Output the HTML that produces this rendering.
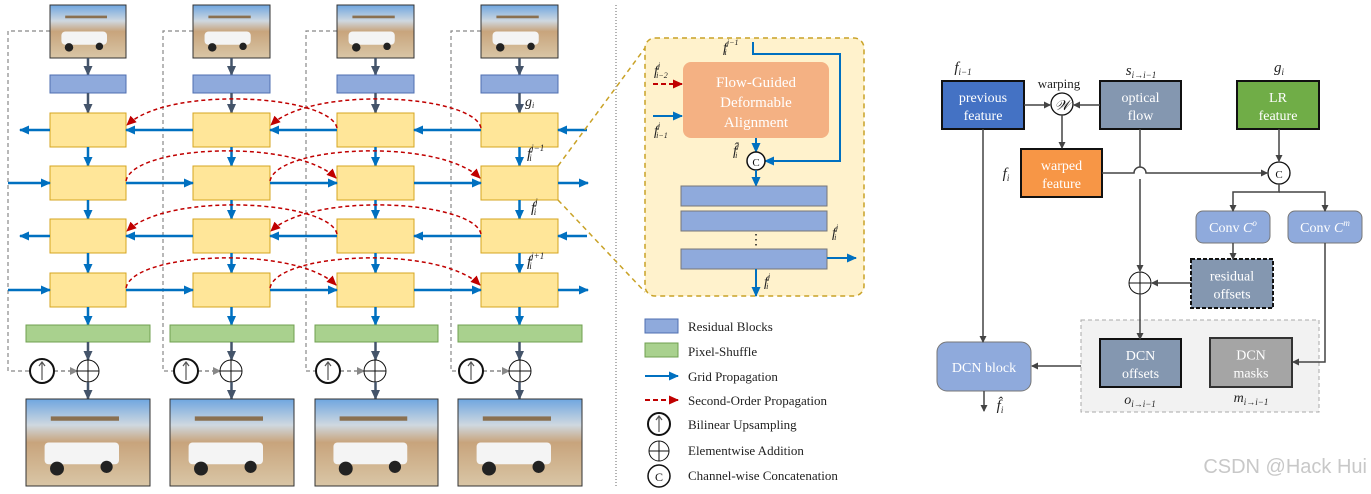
<!DOCTYPE html>
<html><head><meta charset="utf-8"><style>
html,body{margin:0;padding:0;background:#fff;}
svg{display:block;}
text{font-family:"Liberation Serif",serif;}
.m{font-style:italic;font-family:"Liberation Serif",serif;}
</style></head><body>
<svg id="s" width="1371" height="494" viewBox="0 0 1371 494" xmlns="http://www.w3.org/2000/svg">
<defs>
<marker id="ab" markerWidth="10" markerHeight="10" refX="9" refY="5" orient="auto" markerUnits="userSpaceOnUse"><path d="M0,0.5 L10,5 L0,9.5 z" fill="#0070c0"/></marker>
<marker id="ad" markerWidth="10" markerHeight="10" refX="9" refY="5" orient="auto" markerUnits="userSpaceOnUse"><path d="M0,0.5 L10,5 L0,9.5 z" fill="#44546a"/></marker>
<marker id="ar" markerWidth="10" markerHeight="10" refX="9" refY="5" orient="auto" markerUnits="userSpaceOnUse"><path d="M0,0.5 L10,5 L0,9.5 z" fill="#c00000"/></marker>
<marker id="ag" markerWidth="8" markerHeight="8" refX="7" refY="4" orient="auto" markerUnits="userSpaceOnUse"><path d="M0,0 L8,4 L0,8 z" fill="#888"/></marker>
<marker id="ak" markerWidth="7" markerHeight="7" refX="6" refY="3.5" orient="auto" markerUnits="userSpaceOnUse"><path d="M0,0 L7,3.5 L0,7 z" fill="#444"/></marker>
<linearGradient id="ph" x1="0" y1="0" x2="0" y2="1"><stop offset="0" stop-color="#6fa6e0"/><stop offset="0.3" stop-color="#cfd8e0"/><stop offset="0.5" stop-color="#c8a47c"/><stop offset="1" stop-color="#d9c6a6"/></linearGradient>
</defs>
<g id="g"></g>
</svg>
<script>
var o='';
function R(x,y,w,h,f,s,sw,extra){o+='<rect x="'+x+'" y="'+y+'" width="'+w+'" height="'+h+'" fill="'+f+'" stroke="'+(s||'none')+'" stroke-width="'+(sw||1)+'" '+(extra||'')+'/>';}
function L(x1,y1,x2,y2,c,w,m,d){o+='<line x1="'+x1+'" y1="'+y1+'" x2="'+x2+'" y2="'+y2+'" stroke="'+c+'" stroke-width="'+w+'" '+(m?'marker-end="url(#'+m+')" ':'')+(d?'stroke-dasharray="'+d+'"':'')+'/>';}
function P(d,c,w,m,da,f){o+='<path d="'+d+'" fill="'+(f||'none')+'" stroke="'+c+'" stroke-width="'+w+'" '+(m?'marker-end="url(#'+m+')" ':'')+(da?'stroke-dasharray="'+da+'"':'')+'/>';}
function T(x,y,t,sz,c,a,ex){o+='<text x="'+x+'" y="'+y+'" font-size="'+sz+'" fill="'+(c||'#222')+'" text-anchor="'+(a||'start')+'" '+(ex||'')+'>'+t+'</text>';}
function F(x,y,base,sup,sub,sz,bk){var s=Math.round(sz*0.6);T(x,y,base+'<tspan font-size="'+s+'" dy="-7">'+sup+'</tspan><tspan font-size="'+s+'" dy="10" dx="-'+bk+'">'+sub+'</tspan>',sz,'#222','start','class="m"');}
function photo(x,y,w,h){R(x,y,w,h,'url(#ph)','#333',1);
 o+='<rect x="'+(x+w*0.15)+'" y="'+(y+h*0.5)+'" width="'+(w*0.6)+'" height="'+(h*0.25)+'" rx="4" fill="#f4f4f4"/>';
 o+='<rect x="'+(x+w*0.2)+'" y="'+(y+h*0.2)+'" width="'+(w*0.55)+'" height="'+(h*0.05)+'" fill="#8a7050"/>';
 o+='<circle cx="'+(x+w*0.25)+'" cy="'+(y+h*0.8)+'" r="'+(h*0.08)+'" fill="#222"/><circle cx="'+(x+w*0.65)+'" cy="'+(y+h*0.78)+'" r="'+(h*0.07)+'" fill="#222"/>';}
function circ(cx,cy,r,sw){o+='<circle cx="'+cx+'" cy="'+cy+'" r="'+r+'" fill="#fff" stroke="#111" stroke-width="'+(sw||1.3)+'"/>';}
function plus(cx,cy,r){circ(cx,cy,r,1);L(cx-r,cy,cx+r,cy,'#111',1);L(cx,cy-r,cx,cy+r,'#111',1);}
function up(cx,cy,r){circ(cx,cy,r,2);L(cx,cy+r-3,cx,cy-r+4,'#555',1.2);P('M'+(cx-3)+','+(cy-r+7)+' L'+cx+','+(cy-r+3)+' L'+(cx+3)+','+(cy-r+7),'#555',1.2);}

var cols=[{x:50,w:76},{x:193,w:77},{x:337,w:77},{x:481,w:77}];
var gx=[[26,150],[170,294],[315,438],[458,582]];
var bx=[[26,150],[170,294],[315,438],[458,582]];
var dash=[8,163,306,451];
var upx=[42,186,328,471], plx=[88,231,375,520];
var rows=[113,166,219,273];
for(var i=0;i<4;i++){var c=cols[i];P('M'+c.x+',31 L'+dash[i]+',31 L'+dash[i]+',371 L'+(upx[i]-12)+',371','#888',1.2,null,'4,3');}
for(var i=0;i<4;i++){var c=cols[i],cx=c.x+c.w/2;
 photo(c.x,5,c.w,53);
 L(cx,58,cx,75,'#44546a',2.5,'ad');
 R(c.x,75,c.w,18,'#8faadc','#4f6fb0',1);
 L(cx,93,cx,113,'#44546a',2.5,'ad');
 for(var r=0;r<4;r++){R(c.x,rows[r],c.w,34,'#ffe699','#d6a520',1);
  if(r<3)L(cx,rows[r]+34,cx,rows[r+1],'#0070c0',2.5,'ab');}
 L(cx,307,cx,325,'#0070c0',2.5,'ab');
 R(gx[i][0],325,gx[i][1]-gx[i][0],17,'#a9d18e','#70a050',1);
 L(cx,342,cx,360,'#44546a',2.5,'ad');
 L(upx[i]+12,371,plx[i]-11,371,'#888',1.5,'ag','4,3');
 up(upx[i],371,12);plus(plx[i],371,11);
 L(cx,382,cx,399,'#44546a',2.5,'ad');
 photo(bx[i][0],399,bx[i][1]-bx[i][0],87);
}
for(var r=0;r<4;r++){var y=rows[r]+17;
 if(r%2==0){L(587,y,558,y,'#0070c0',2.5,'ab');L(481,y,414,y,'#0070c0',2.5,'ab');L(337,y,270,y,'#0070c0',2.5,'ab');L(193,y,126,y,'#0070c0',2.5,'ab');L(50,y,20,y,'#0070c0',2.5,'ab');
  P('M337,'+(y-2)+' C330,'+(y-35)+' 170,'+(y-45)+' 127,'+(y-5),'#c00000',1.5,'ar','4,3');
  P('M481,'+(y-2)+' C474,'+(y-35)+' 314,'+(y-45)+' 271,'+(y-5),'#c00000',1.5,'ar','4,3');
 }else{L(8,y,50,y,'#0070c0',2.5,'ab');L(126,y,193,y,'#0070c0',2.5,'ab');L(270,y,337,y,'#0070c0',2.5,'ab');L(414,y,481,y,'#0070c0',2.5,'ab');L(558,y,588,y,'#0070c0',2.5,'ab');
  P('M126,'+(y-2)+' C133,'+(y-38)+' 295,'+(y-45)+' 336,'+(y-5),'#c00000',1.5,'ar','4,3');
  P('M270,'+(y-2)+' C277,'+(y-38)+' 439,'+(y-45)+' 480,'+(y-5),'#c00000',1.5,'ar','4,3');
 }}
T(525,106,'g<tspan font-size="8" dy="2">i</tspan>',14,'#222','start','class="m"');
F(527,158,'f','j−1','i',15,15);
F(531,212,'f','j','i',15,4);
F(527,266,'f','j+1','i',15,15);
L(616,5,616,488,'#666',1,null,'1,2');
L(558,166,645,48,'#c9a227',1.5,null,'5,4');L(558,200,645,292,'#c9a227',1.5,null,'5,4');
o+='<rect x="645" y="38" width="219" height="258" rx="10" fill="#fff2cc" stroke="#c9a227" stroke-width="1.5" stroke-dasharray="5,4"/>';
o+='<rect x="683" y="62" width="146" height="76" rx="8" fill="#f4b183"/>';
T(756,87,'Flow-Guided',15,'#fff','middle');T(756,107,'Deformable',15,'#fff','middle');T(756,127,'Alignment',15,'#fff','middle');
P('M753,42 L753,54 L840,54 L840,161 L765,161','#0070c0',2,'ab');
L(756,138,756,152,'#0070c0',2,'ab');
circ(756,161,9,1.5);T(756,166,'C',11,'#111','middle');
L(756,170,756,186,'#0070c0',2,'ab');
R(681,186,146,20,'#8faadc','#777',1);R(681,211,146,20,'#8faadc','#777',1);
T(756,244,'⋮',14,'#111','middle');
R(681,249,146,20,'#8faadc','#777',1);
L(827,258,856,258,'#0070c0',2,'ab');
L(756,269,756,296,'#0070c0',2,'ab');
L(653,84,682,84,'#c00000',2,'ar','5,3');L(653,116,682,116,'#0070c0',2,'ab');
F(654,75,'f','j','i−2',14,4);
F(654,135,'f','j','i−1',14,4);
F(723,52,'f','j−1','i',14,14);
F(733,155,'f̂','j','i',14,4);
F(832,237,'f','j','i',14,4);
F(764,286,'f','j','i',14,4);
R(645,319,33,14,'#8faadc','#4f6fb0',1);R(645,343,33,14,'#a9d18e','#70a050',1);
L(645,376,678,376,'#0070c0',2,'ab');L(645,400,678,400,'#c00000',2,'ar','5,3');
up(659,424,11);plus(659,451,10);circ(659,476,11,1.5);T(659,481,'C',12,'#111','middle');
var lg=['Residual Blocks','Pixel-Shuffle','Grid Propagation','Second-Order Propagation','Bilinear Upsampling','Elementwise Addition','Channel-wise Concatenation'];
var ly=[331,356,381,405,429,455,480];
for(var i=0;i<7;i++)T(688,ly[i],lg[i],13,'#222');
R(1081,320,238,92,'#f2f2f2','#aaa',1,'stroke-dasharray="4,3"');
function box(x,y,w,h,f,t1,t2,b,extra){R(x,y,w,h,f,b||'#111',2,extra||'');T(x+w/2,y+h/2-3,t1,14,'#fff','middle');if(t2)T(x+w/2,y+h/2+15,t2,14,'#fff','middle');}
box(942,81,82,48,'#4472c4','previous','feature');
box(1100,81,81,48,'#8497b0','optical','flow');
box(1237,81,82,48,'#70ad47','LR','feature');
box(1021,149,81,48,'#f79646','warped','feature');
box(1191,259,82,49,'#8497b0','residual','offsets','#111','stroke-dasharray="4,2"');
box(1100,339,81,48,'#8497b0','DCN','offsets');
box(1210,338,82,49,'#a5a5a5','DCN','masks','#333');
o+='<rect x="1196" y="211" width="74" height="32" rx="7" fill="#8faadc" stroke="#777"/>';T(1233,232,'Conv <tspan class="m">C<tspan font-size="9" dy="-6">o</tspan></tspan>',14,'#fff','middle');
o+='<rect x="1288" y="211" width="74" height="32" rx="7" fill="#8faadc" stroke="#777"/>';T(1325,232,'Conv <tspan class="m">C<tspan font-size="9" dy="-6">m</tspan></tspan>',14,'#fff','middle');
o+='<rect x="937" y="342" width="94" height="49" rx="10" fill="#8faadc" stroke="#777"/>';T(984,372,'DCN block',14,'#fff','middle');
circ(1062,104,11,1.3);T(1062,110,'𝒲',14,'#111','middle','class="m"');
circ(1279,173,11,1.3);T(1279,178,'C',11,'#111','middle');
plus(1140,283,11);
var k='#444';
L(1024,105,1050,105,k,1.5,'ak');L(1100,105,1074,105,k,1.5,'ak');
L(1062,115,1062,148,k,1.5,'ak');
P('M1102,173 L1134,173 A6,6 0 0 1 1146,173 L1267,173',k,1.5,'ak');
P('M1140,129 L1140,167 M1140,179 L1140,271',k,1.5,'ak');
L(1279,129,1279,161,k,1.5,'ak');
P('M1279,184 L1279,192 L1233,192 L1233,211',k,1.5,'ak');P('M1279,192 L1325,192 L1325,211',k,1.5,'ak');
L(1233,243,1233,259,k,1.5,'ak');
L(1191,283,1152,283,k,1.5,'ak');
L(1140,294,1140,339,k,1.5,'ak');
P('M1325,243 L1325,362 L1293,362',k,1.5,'ak');
L(1081,366,1032,366,k,1.5,'ak');
L(983,129,983,342,k,1.5,'ak');
L(984,391,984,411,k,1.5,'ak');
T(963,72,'f<tspan font-size="9" dy="3">i−1</tspan>',15,'#222','middle','class="m"');
T(1059,88,'warping',13,'#222','middle');
T(1141,75,'s<tspan font-size="9" dy="3">i→i−1</tspan>',15,'#222','middle','class="m"');
T(1279,72,'g<tspan font-size="9" dy="3">i</tspan>',15,'#222','middle','class="m"');
T(1006,178,'f<tspan font-size="9" dy="3">i</tspan>',15,'#222','middle','class="m"');
T(1140,404,'o<tspan font-size="9" dy="3">i→i−1</tspan>',14,'#222','middle','class="m"');
T(1251,402,'m<tspan font-size="9" dy="3">i→i−1</tspan>',14,'#222','middle','class="m"');
T(1000,410,'f̂<tspan font-size="9" dy="3">i</tspan>',15,'#222','middle','class="m"');
T(1367,473,'CSDN @Hack Hui',20,'#c8c8c8','end','style="font-family:Liberation Sans,sans-serif"');
document.getElementById('g').innerHTML=o;
</script>
</body></html>
